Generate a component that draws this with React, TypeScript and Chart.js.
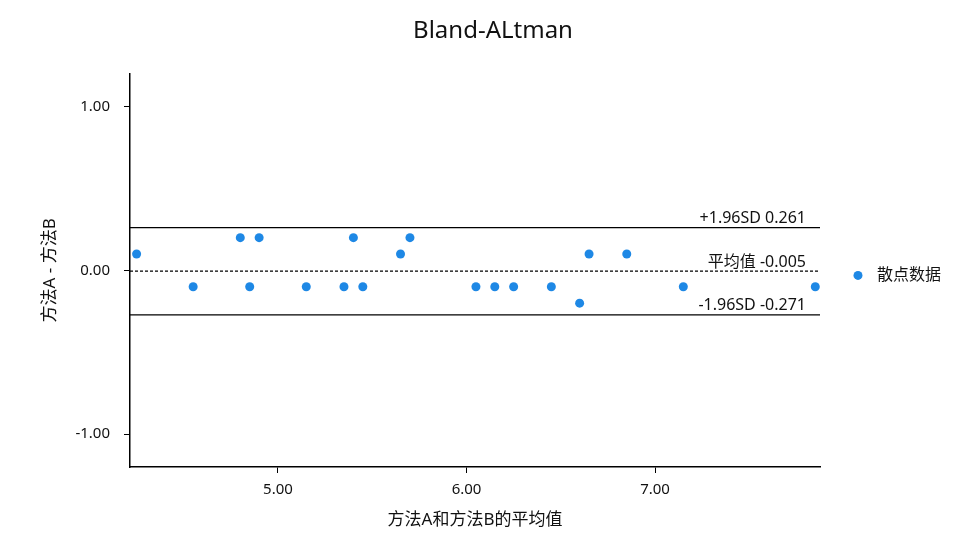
import React, { useEffect, useRef } from "react";
import { Chart, registerables } from "chart.js";

Chart.register(...registerables);

// Mean of method A and method B (x) and difference A - B (y)
const meanX = [4.25, 4.55, 4.8, 4.85, 4.9, 5.15, 5.35, 5.4, 5.45, 5.65, 5.7, 6.05, 6.15, 6.25, 6.45, 6.6, 6.65, 6.85, 7.15, 7.85];
const diffY = [0.1, -0.1, 0.2, -0.1, 0.2, -0.1, -0.1, 0.2, -0.1, 0.1, 0.2, -0.1, -0.1, -0.1, -0.1, -0.2, 0.1, 0.1, -0.1, -0.1];

const upperLoA = 0.261;
const meanDiff = -0.005;
const lowerLoA = -0.271;

const xTicks = [5, 6, 7];
const yTicks = [-1, 0, 1];
const xRange = [4.215, 7.875];
const yRange = [-1.2, 1.2];

const titleText = "Bland-ALtman";
const seriesLabel = "散点数据";
const xTitle = "方法A和方法B的平均值";
const yTitle = "方法A - 方法B";
const lineLabels = ["+1.96SD " + upperLoA.toFixed(3), "平均值 " + meanDiff.toFixed(3), "-1.96SD " + lowerLoA.toFixed(3)];

const FONT = "'Noto Sans', 'Noto Sans CJK SC', sans-serif";
const POINT_COLOR = "#1e88e5";
const TEXT_COLOR = "#111";

export default function App() {
  const ref = useRef<HTMLCanvasElement | null>(null);

  useEffect(() => {
    if (!ref.current) return;

    const lineValues = [upperLoA, meanDiff, lowerLoA];

    const labelPlugin = {
      id: "loaLabels",
      afterDatasetsDraw(chart: any) {
        const { ctx, chartArea, scales } = chart;
        ctx.save();
        ctx.font = `16px ${FONT}`;
        ctx.fillStyle = TEXT_COLOR;
        ctx.textAlign = "right";
        ctx.textBaseline = "bottom";
        lineValues.forEach((v, i) => {
          const y = scales.y.getPixelForValue(v);
          ctx.fillText(lineLabels[i], chartArea.right - 14, y - 1);
        });
        ctx.restore();
      },
    };

    const legendPlugin = {
      id: "sideLegend",
      afterDraw(chart: any) {
        const { ctx, chartArea } = chart;
        const cy = (chartArea.top + chartArea.bottom) / 2 + 5;
        ctx.save();
        ctx.fillStyle = POINT_COLOR;
        ctx.beginPath();
        ctx.arc(chartArea.right + 38, cy, 4.5, 0, Math.PI * 2);
        ctx.fill();
        ctx.fillStyle = TEXT_COLOR;
        ctx.font = `16px ${FONT}`;
        ctx.textAlign = "left";
        ctx.textBaseline = "middle";
        ctx.fillText(seriesLabel, chartArea.right + 57, cy);
        ctx.restore();
      },
    };

    const hLine = (v: number, dash: number[]) => ({
      type: "line" as const,
      label: "_line",
      data: [
        { x: xRange[0], y: v },
        { x: xRange[1], y: v },
      ],
      borderColor: "#000",
      borderWidth: 1.2,
      borderDash: dash,
      pointRadius: 0,
      fill: false,
    });

    const chart = new Chart(ref.current, {
      type: "scatter",
      data: {
        datasets: [
          {
            label: seriesLabel,
            data: meanX.map((x, i) => ({ x, y: diffY[i] })),
            backgroundColor: POINT_COLOR,
            borderWidth: 0,
            pointRadius: 4.5,
          },
          hLine(upperLoA, []),
          hLine(meanDiff, [3, 2]),
          hLine(lowerLoA, []),
        ] as any,
      },
      options: {
        animation: false,
        responsive: false,
        devicePixelRatio: 1,
        layout: { padding: { left: 36, right: 10, top: 0, bottom: 0 } },
        plugins: {
          legend: { display: false },
          tooltip: { enabled: false },
          title: {
            display: true,
            text: titleText,
            color: TEXT_COLOR,
            font: { family: FONT, size: 24, weight: "normal" },
            padding: { top: 17, bottom: 28 },
          },
        },
        scales: {
          x: {
            type: "linear",
            min: xRange[0],
            max: xRange[1],
            afterBuildTicks: (s: any) => {
              s.ticks = xTicks.map((v) => ({ value: v }));
            },
            afterFit: (s: any) => {
              s.height = 73;
            },
            ticks: {
              callback: (v: any) => Number(v).toFixed(2),
              color: TEXT_COLOR,
              font: { family: FONT, size: 15 },
              padding: 8,
              maxRotation: 0,
            },
            grid: { drawOnChartArea: false, drawTicks: true, tickLength: 6, color: "#000" },
            border: { color: "#000", width: 1.5 },
            title: {
              display: true,
              text: xTitle,
              color: TEXT_COLOR,
              font: { family: FONT, size: 17 },
              padding: { top: 4, bottom: 10 },
            },
          },
          y: {
            type: "linear",
            min: yRange[0],
            max: yRange[1],
            afterBuildTicks: (s: any) => {
              s.ticks = yTicks.map((v) => ({ value: v }));
            },
            afterFit: (s: any) => {
              s.width = 94;
            },
            ticks: {
              callback: (v: any) => Number(v).toFixed(2),
              color: TEXT_COLOR,
              font: { family: FONT, size: 15 },
              padding: 14,
            },
            grid: { drawOnChartArea: false, drawTicks: true, tickLength: 6, color: "#000" },
            border: { color: "#000", width: 1.5 },
            title: {
              display: true,
              text: yTitle,
              color: TEXT_COLOR,
              font: { family: FONT, size: 17 },
              padding: { top: 4, bottom: 4 },
            },
          },
          legendSpace: {
            type: "linear",
            position: "right",
            display: true,
            grid: { display: false },
            ticks: { display: false },
            border: { display: false },
            afterFit: (s: any) => {
              s.width = 130;
            },
          },
        },
      },
      plugins: [labelPlugin, legendPlugin],
    });

    return () => chart.destroy();
  }, []);

  return (
    <div style={{ position: "fixed", left: 0, top: 0, width: 960, height: 540, background: "#fff" }}>
      <canvas ref={ref} width={960} height={540} style={{ display: "block", width: 960, height: 540 }} />
    </div>
  );
}
